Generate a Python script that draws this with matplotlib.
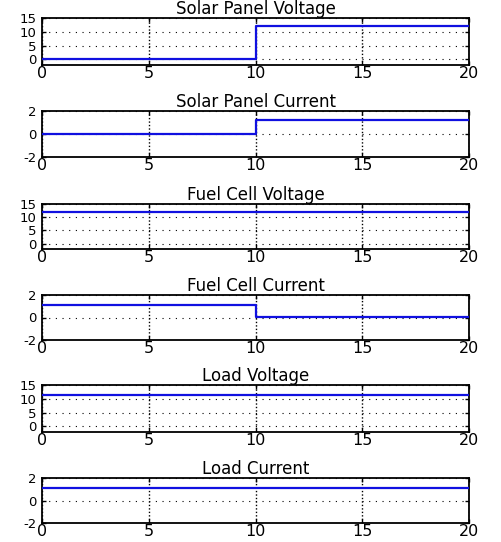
import numpy as np
import matplotlib
matplotlib.use("Agg")
import matplotlib.pyplot as plt

plt.rcParams["axes.unicode_minus"] = False

# step signals, sampled at the switching instant t = 10 s
t_step = [0, 10, 10, 20]
solar_v = [0, 0, 12, 12]
solar_i = [0, 0, 1.2, 1.2]
fuel_v = [11.8, 11.8, 11.8, 11.8]
fuel_i = [1.15, 1.15, 0.05, 0.05]
load_v = [11.5, 11.5, 11.5, 11.5]
load_i = [1.15, 1.15, 1.15, 1.15]

titles = ["Solar Panel Voltage", "Solar Panel Current", "Fuel Cell Voltage",
          "Fuel Cell Current", "Load Voltage", "Load Current"]
series = [solar_v, solar_i, fuel_v, fuel_i, load_v, load_i]
kinds = ["v", "i", "v", "i", "v", "i"]

x_ticks = [0, 5, 10, 15, 20]
v_ticks = [0, 5, 10, 15]
i_ticks = [-2, 0, 2]

W, H = 501, 542
fig = plt.figure(figsize=(W / 100, H / 100), dpi=100)
fig.patch.set_facecolor("white")

# axes pixel boxes (top, bottom)
boxes = [(18, 65), (111, 157), (204, 249), (295, 340), (385, 432), (478, 523)]
left_px, right_px = 42, 469

for (top, bot), title, y, kind in zip(boxes, titles, series, kinds):
    ax = fig.add_axes([left_px / W, 1 - bot / H, (right_px - left_px) / W, (bot - top) / H])
    ax.plot(t_step, y, color="#1010e0", lw=1.6, zorder=3)
    ax.set_xlim(0, 20)
    if kind == "v":
        ax.set_ylim(-2, 15)
        ax.set_yticks(v_ticks)
    else:
        ax.set_ylim(-2, 2)
        ax.set_yticks(i_ticks)
    ax.set_xticks(x_ticks)
    ax.xaxis.grid(True, color="black", linestyle=(0, (1, 1.5)), lw=1.0)
    ax.yaxis.grid(True, color="black", linestyle=(0, (1, 5)), lw=0.8)
    ax.tick_params(direction="in", length=3, width=1, top=True, right=True)
    ax.tick_params(axis="y", pad=4, labelsize=9.5)
    ax.tick_params(axis="x", pad=1, labelsize=11.5)
    for s in ax.spines.values():
        s.set_linewidth(1.3)
    ax.set_title(title, fontsize=12, pad=3)

fig.savefig("out.png", dpi=100, facecolor="white")
